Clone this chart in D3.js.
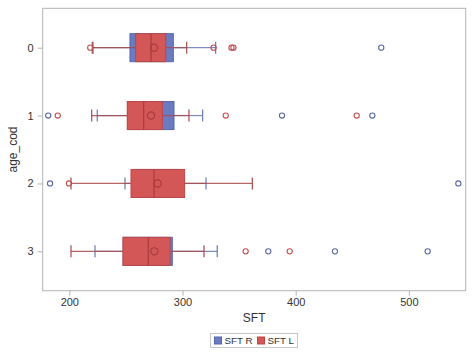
<!DOCTYPE html>
<html><head><meta charset="utf-8">
<script src="https://cdn.jsdelivr.net/npm/d3@7"></script>
<style>body{margin:0;background:#fff}svg{display:block}text{font-family:"Liberation Sans",Arial,sans-serif}</style>
</head><body><svg id="c" width="474" height="355"></svg>
<script>
const categories = ["0", "1", "2", "3"];
const seriesNames = ["SFT R", "SFT L"];
const xTicks = [200, 300, 400, 500];
// SFT R (blue)
const rWhiskLo = [221, 224.7, 249.2, 222.7];
const rQ1 = [253.6, 251.5, 258, 247.6];
const rMedian = [272.2, 266, 275, 270];
const rQ3 = [291.9, 292.5, 298, 291];
const rWhiskHi = [329.3, 317.8, 320.8, 330.7];
const rMean = [274, 272, 279, 275];
const rOutliers = [[475.6], [181.4, 387.9, 467.7], [183, 543.7], [375.8, 434.7, 516.6]];
// SFT L (red)
const lWhiskLo = [220.3, 219.8, 201.5, 201.5];
const lQ1 = [258.6, 251.2, 254.5, 247.4];
const lMedian = [272.2, 265.7, 274.8, 269.8];
const lQ3 = [285.2, 282.2, 301.9, 289];
const lWhiskHi = [303.7, 305.7, 361.7, 319];
const lMean = [274.8, 272.2, 278.1, 275.1];
const lOutliers = [[218.5, 327.5, 343.3, 345], [189.8, 338.2, 453.9], [199.7], [355.8, 394.7]];

const series = [
  {name: seriesNames[0], lo: rWhiskLo, q1: rQ1, med: rMedian, q3: rQ3, hi: rWhiskHi, mean: rMean, out: rOutliers,
   fill: "#6a7bc2", stroke: "#5466ae", whisk: "#6b79b5", medc: "#4a5a9c", outc: "#5a68a8"},
  {name: seriesNames[1], lo: lWhiskLo, q1: lQ1, med: lMedian, q3: lQ3, hi: lWhiskHi, mean: lMean, out: lOutliers,
   fill: "#d35757", stroke: "#bd4646", whisk: "#a84a4a", medc: "#a83c3c", outc: "#c04f4f"}
];

const svg = d3.select("#c");
const L = 42.7, R = 465.7, T = 8.3, B = 290.7;
const x = d3.scaleLinear().domain([176.5, 550.2]).range([L, R]);
const y = d3.scalePoint().domain(categories).range([T, B]).padding(0.58);
const boxH = 28, capH = 12;

svg.append("rect").attr("x", L).attr("y", T).attr("width", R - L).attr("height", B - T)
  .attr("fill", "none").attr("stroke", "#b4b4b4").attr("stroke-width", 1);

const xa = svg.append("g").attr("transform", `translate(0,${B})`)
  .call(d3.axisBottom(x).tickValues(xTicks).tickSize(5).tickPadding(3).tickFormat(d3.format("d")));
xa.select(".domain").remove();
xa.selectAll("line").attr("stroke", "#b4b4b4");
xa.selectAll("text").attr("font-size", "11px").attr("fill", "#333");

const ya = svg.append("g").attr("transform", `translate(${L},0)`)
  .call(d3.axisLeft(y).tickSize(5).tickPadding(4));
ya.select(".domain").remove();
ya.selectAll("line").attr("stroke", "#b4b4b4");
ya.selectAll("text").attr("font-size", "11px").attr("fill", "#333");

svg.append("text").attr("x", (L + R) / 2).attr("y", 322).attr("text-anchor", "middle")
  .attr("font-size", "12px").attr("fill", "#333").text("SFT");
svg.append("text").attr("transform", `translate(17,${(T + B) / 2}) rotate(-90)`).attr("text-anchor", "middle")
  .attr("font-size", "12px").attr("fill", "#333").text("age_cod");

const marks = svg.append("g");
series.forEach(s => {
  const g = marks.append("g");
  categories.forEach((c, i) => {
    const cy = y(c);
    g.append("line").attr("x1", x(s.lo[i])).attr("x2", x(s.q1[i])).attr("y1", cy).attr("y2", cy)
      .attr("stroke", s.whisk).attr("stroke-width", 1.2).attr("stroke-opacity", 0.85);
    g.append("line").attr("x1", x(s.q3[i])).attr("x2", x(s.hi[i])).attr("y1", cy).attr("y2", cy)
      .attr("stroke", s.whisk).attr("stroke-width", 1.2).attr("stroke-opacity", 0.85);
    [s.lo[i], s.hi[i]].forEach(v => {
      g.append("line").attr("x1", x(v)).attr("x2", x(v)).attr("y1", cy - capH / 2).attr("y2", cy + capH / 2)
        .attr("stroke", s.whisk).attr("stroke-width", 1.2);
    });
    g.append("rect").attr("x", x(s.q1[i])).attr("y", cy - boxH / 2)
      .attr("width", x(s.q3[i]) - x(s.q1[i])).attr("height", boxH)
      .attr("fill", s.fill).attr("stroke", s.stroke).attr("stroke-width", 1);
    g.append("line").attr("x1", x(s.med[i])).attr("x2", x(s.med[i]))
      .attr("y1", cy - boxH / 2).attr("y2", cy + boxH / 2).attr("stroke", s.medc).attr("stroke-width", 1.2);
    g.append("circle").attr("cx", x(s.mean[i])).attr("cy", cy).attr("r", 3.6)
      .attr("fill", "none").attr("stroke", s.medc).attr("stroke-width", 1.2);
  });
});
series.forEach(s => {
  categories.forEach((c, i) => {
    s.out[i].forEach(v => {
      marks.append("circle").attr("cx", x(v)).attr("cy", y(c)).attr("r", 2.6)
        .attr("fill", "none").attr("stroke", s.outc).attr("stroke-width", 1.1);
    });
  });
});

const lg = svg.append("g");
lg.append("rect").attr("x", 210.5).attr("y", 333.5).attr("width", 87).attr("height", 14)
  .attr("fill", "#fff").attr("stroke", "#c8c8c8");
const legX = [214.5, 257.5];
series.forEach((s, i) => {
  lg.append("rect").attr("x", legX[i]).attr("y", 337).attr("width", 7).attr("height", 7)
    .attr("fill", s.fill).attr("stroke", s.stroke);
  lg.append("text").attr("x", legX[i] + 10).attr("y", 344.3).attr("font-size", "9.8px").attr("fill", "#333").text(s.name);
});
</script></body></html>
